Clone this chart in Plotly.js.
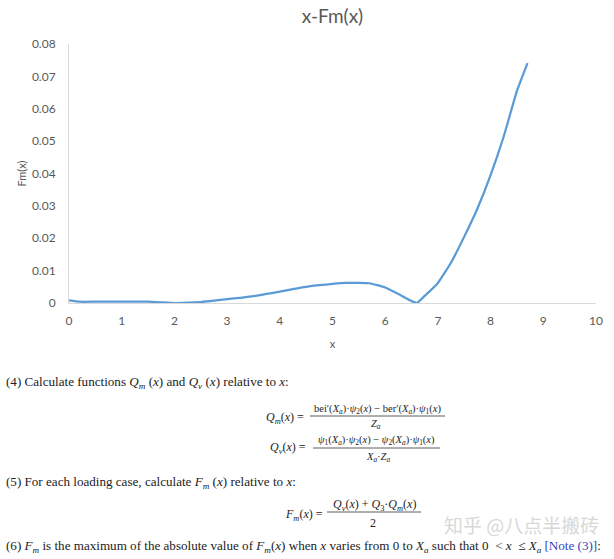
<!DOCTYPE html>
<html>
<head>
<meta charset="utf-8">
<script src="https://cdn.plot.ly/plotly-3.0.1.min.js"></script>
<style>
html,body{margin:0;padding:0;background:#fff;}
#chart{width:614px;height:559px;}
</style>
</head>
<body>
<div id="chart"></div>
<script>
// ---- data ----
var xValues = [0, 0.2, 0.5, 1.0, 1.5, 1.75, 2.0, 2.25, 2.5, 2.75, 3.0, 3.25, 3.5, 3.75, 4.0, 4.25, 4.5, 4.75, 5.0, 5.25, 5.5, 5.7, 6.0, 6.25, 6.5, 6.6, 6.75, 7.0, 7.25, 7.5, 7.75, 8.0, 8.25, 8.5, 8.7];
var fmValues = [0.0008, 0.0004, 0.0004, 0.0004, 0.0004, 0.0002, 0.0000, 0.0001, 0.0003, 0.0007, 0.0012, 0.0016, 0.0021, 0.0028, 0.0035, 0.0043, 0.0050, 0.0055, 0.0059, 0.0062, 0.0062, 0.0061, 0.0048, 0.0028, 0.0006, 0.0000, 0.0022, 0.0062, 0.0125, 0.0205, 0.0292, 0.0395, 0.0515, 0.0655, 0.0741];
var xTicks = [0, 1, 2, 3, 4, 5, 6, 7, 8, 9, 10];
var yTicks = [0, 0.01, 0.02, 0.03, 0.04, 0.05, 0.06, 0.07, 0.08];
var yTickLabels = ['0', '0.01', '0.02', '0.03', '0.04', '0.05', '0.06', '0.07', '0.08'];
var chartTitle = 'x-Fm(x)';
var xTitle = 'x';
var yTitle = 'Fm(x)';

// ---- layout helpers (pixel -> paper) ----
var W = 614, H = 559, ML = 69, MR = 18, MT = 44, MB = 256;
var PW = W - ML - MR, PH = H - MT - MB;
function px(x){ return (x - ML) / PW; }
function py(y){ return (H - MB - y) / PH; }

var serif = 'Liberation Serif, DejaVu Serif, serif';
var sans = 'Lato, Open Sans, sans-serif';
var txtColor = '#222';

function ann(text, x, y, xanchor, size, extra){
  var a = {text: text, x: px(x), y: py(y), xref: 'paper', yref: 'paper',
    xanchor: xanchor || 'left', yanchor: 'middle', showarrow: false,
    font: {family: serif, size: size || 14, color: txtColor}};
  if (extra) for (var k in extra) a[k] = extra[k];
  return a;
}
function hline(x0, x1, y){
  return {type: 'line', xref: 'paper', yref: 'paper', x0: px(x0), x1: px(x1), y0: py(y), y1: py(y),
    line: {color: '#333', width: 0.8}};
}

var annotations = [
  ann('知乎 @八点半搬砖', 601, 524, 'right', 19, {font: {family: 'Noto Sans CJK SC, sans-serif', size: 19, color: '#d8d8d8'}}),
  ann('(4) Calculate functions <i>Q<sub>m</sub></i> (<i>x</i>) and <i>Q<sub>v</sub></i> (<i>x</i>) relative to <i>x</i>:', 4, 382, 'left', 13.1),
  ann('<i>Q<sub>m</sub></i>(<i>x</i>) =', 306, 418, 'right', 12),
  ann('bei′(<i>X<sub>a</sub></i>)·<i>ψ</i><sub>2</sub>(<i>x</i>) − ber′(<i>X<sub>a</sub></i>)·<i>ψ</i><sub>1</sub>(<i>x</i>)', 377, 409, 'center', 10.5),
  ann('<i>Z<sub>a</sub></i>', 376, 424, 'center', 10.5),
  ann('<i>Q<sub>v</sub></i>(<i>x</i>) =', 308, 448, 'right', 12),
  ann('<i>ψ</i><sub>1</sub>(<i>X<sub>a</sub></i>)·<i>ψ</i><sub>2</sub>(<i>x</i>) − <i>ψ</i><sub>2</sub>(<i>X<sub>a</sub></i>)·<i>ψ</i><sub>1</sub>(<i>x</i>)', 376, 440, 'center', 10.5),
  ann('<i>X<sub>a</sub></i>·<i>Z<sub>a</sub></i>', 378, 457, 'center', 10.5),
  ann('(5) For each loading case, calculate <i>F<sub>m</sub></i> (<i>x</i>) relative to <i>x</i>:', 4, 482, 'left', 13.1),
  ann('<i>F<sub>m</sub></i>(<i>x</i>) =', 325, 515, 'right', 12),
  ann('<i>Q<sub>v</sub></i>(<i>x</i>) + <i>Q</i><sub>3</sub>·<i>Q<sub>m</sub></i>(<i>x</i>)', 374, 505, 'center', 12),
  ann('2', 373, 523, 'center', 12),
  ann('(6) <i>F<sub>m</sub></i> is the maximum of the absolute value of <i>F<sub>m</sub></i>(<i>x</i>) when <i>x</i> varies from 0 to <i>X<sub>a</sub></i> such that 0  &lt; <i>x</i>  ≤ <i>X<sub>a</sub></i> <span style="color:#3344bb">[Note (3)]</span>:', 4, 546, 'left', 13.1)
];

var shapes = [
  hline(310, 445, 416),
  hline(313, 440, 448),
  hline(327, 421, 512)
];

var trace = {
  x: xValues, y: fmValues, type: 'scatter', mode: 'lines',
  line: {color: '#5B9BD5', width: 2.25, shape: 'spline', smoothing: 0.4},
  hoverinfo: 'x+y'
};

var layout = {
  width: W, height: H,
  margin: {l: ML, r: MR, t: MT, b: MB, pad: 0},
  paper_bgcolor: '#fff', plot_bgcolor: '#fff',
  showlegend: false,
  title: {text: chartTitle, x: 0.5, xref: 'paper', y: 1 - 16 / H, yref: 'container', yanchor: 'middle',
    font: {family: sans, size: 19, color: '#595959'}},
  xaxis: {
    range: [0, 10], tickvals: xTicks, ticktext: xTicks.map(String),
    showgrid: false, zeroline: false, showline: true, linecolor: '#d9d9d9', linewidth: 1,
    ticks: 'outside', ticklen: 7, tickcolor: 'rgba(0,0,0,0)',
    tickfont: {family: sans, size: 12, color: '#595959'},
    title: {text: xTitle, font: {family: sans, size: 11, color: '#595959'}, standoff: 12},
    fixedrange: true
  },
  yaxis: {
    range: [0, 0.08], tickvals: yTicks, ticktext: yTickLabels,
    showgrid: false, zeroline: false, showline: true, linecolor: '#d9d9d9', linewidth: 1,
    ticks: 'outside', ticklen: 10, tickcolor: 'rgba(0,0,0,0)',
    tickfont: {family: sans, size: 12, color: '#595959'},
    title: {text: yTitle, font: {family: sans, size: 11, color: '#595959'}, standoff: 3},
    fixedrange: true
  },
  annotations: annotations,
  shapes: shapes
};

Plotly.newPlot('chart', [trace], layout, {staticPlot: true, displayModeBar: false});
</script>
</body>
</html>
